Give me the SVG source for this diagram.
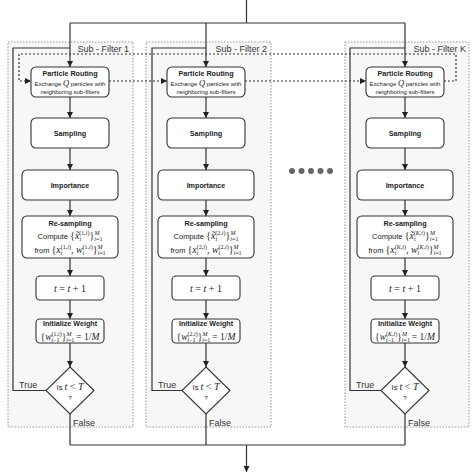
<svg xmlns="http://www.w3.org/2000/svg" width="474" height="474" viewBox="0 0 474 474">
<defs>
<marker id="ah" markerUnits="userSpaceOnUse" markerWidth="7" markerHeight="7" refX="6" refY="3" orient="auto"><path d="M0,0 L6,3 L0,6 z" fill="#222"/></marker>
<style>
.sf{fill:#f7f7f7;stroke:#999;stroke-width:1;stroke-dasharray:1.5 1.5}
.bx{fill:#fff;stroke:#333;stroke-width:1.1}
.ln{fill:none;stroke:#333;stroke-width:1.2}
.dt{fill:none;stroke:#333;stroke-width:1.2;stroke-dasharray:2 2}
.ar{marker-end:url(#ah)}
.hd{font-family:"Liberation Sans",Arial,sans-serif;font-weight:bold;font-size:7.2px;fill:#222;text-anchor:middle}
.sm{font-family:"Liberation Sans",Arial,sans-serif;font-size:6px;fill:#222;text-anchor:middle}
.mt{font-family:"Liberation Serif","Times New Roman",serif;font-size:10px;fill:#222;text-anchor:middle}
.m9{font-size:9.5px}
.q{font-family:"Liberation Serif","Times New Roman",serif;font-style:italic;font-size:8.5px}
.lb{font-family:"Liberation Sans",Arial,sans-serif;font-size:9px;fill:#333}
.i{font-style:italic}
.s5{font-size:6px}
.sn{font-family:"Liberation Sans",Arial,sans-serif;font-size:7.5px}
</style>
</defs>
<rect width="474" height="474" fill="#fff"/>
<g id="subfilter-1"><rect class="sf" x="8" y="42" width="125" height="385"/><text class="lb" x="129" y="52" text-anchor="end">Sub - Filter 1</text></g>
<g id="subfilter-2"><rect class="sf" x="146" y="42" width="125" height="385"/><text class="lb" x="267" y="52" text-anchor="end">Sub - Filter 2</text></g>
<g id="subfilter-k"><rect class="sf" x="345" y="42" width="124" height="385"/><text class="lb" x="466" y="52" text-anchor="end">Sub - Filter K</text></g>
<g id="connectors">
<path class="ln" d="M246.5,0 V23 M70,23 H405"/>
<path class="ln ar" d="M70,23 V67"/><path class="ln ar" d="M206,23 V67"/><path class="ln ar" d="M405,23 V67"/>
<path class="ln" d="M46,390.5 H13 V48 H70"/>
<path class="ln" d="M182,390.5 H152 V48 H206"/>
<path class="ln" d="M381,390.5 H350 V48 H405"/>
<g id="c1-arrows"><path class="ln ar" d="M70,97 V118"/><path class="ln ar" d="M70,148 V170"/><path class="ln ar" d="M70,200 V216"/><path class="ln ar" d="M70,258 V276"/><path class="ln ar" d="M70,300 V319"/><path class="ln ar" d="M70,343 V367"/></g>
<g id="c2-arrows"><path class="ln ar" d="M206,97 V118"/><path class="ln ar" d="M206,148 V170"/><path class="ln ar" d="M206,200 V216"/><path class="ln ar" d="M206,258 V276"/><path class="ln ar" d="M206,300 V319"/><path class="ln ar" d="M206,343 V367"/></g>
<g id="ck-arrows"><path class="ln ar" d="M405,97 V118"/><path class="ln ar" d="M405,148 V170"/><path class="ln ar" d="M405,200 V216"/><path class="ln ar" d="M405,258 V276"/><path class="ln ar" d="M405,300 V319"/><path class="ln ar" d="M405,343 V367"/></g>
<path class="ln" d="M70,414 V445 M206,414 V445 M405,414 V445 M70,445 H405"/>
<path class="ln ar" d="M246.5,445 V472"/>
<path class="dt ar" d="M444,81 H456 V54 H19 V81 H31"/>
<path class="dt ar" d="M109,81 H167"/>
<path class="dt ar" d="M245,81 H366"/>
<text class="lb" x="19" y="388">True</text><text class="lb" x="158" y="388">True</text><text class="lb" x="356" y="388">True</text>
<text class="lb" x="73" y="426">False</text><text class="lb" x="209" y="426">False</text><text class="lb" x="408" y="426">False</text>
</g>

<!-- Column 1 -->
<g id="c1-routing" transform="translate(70,0)"><rect class="bx" x="-39" y="67" width="78" height="30" rx="5"/><text class="hd" x="0" y="75.5">Particle Routing</text><text class="sm" x="0" y="85.5">Exchange <tspan class="q">Q</tspan> particles with</text><text class="sm" x="0" y="93.5">neighboring sub-filters</text></g>
<g id="c1-sampling" transform="translate(70,0)"><rect class="bx" x="-39" y="118" width="78" height="30" rx="5"/><text class="hd" x="0" y="135.5">Sampling</text></g>
<g id="c1-importance" transform="translate(70,0)"><rect class="bx" x="-48" y="170" width="96" height="30" rx="5"/><text class="hd" x="0" y="187.5">Importance</text></g>
<g id="c1-resampling" transform="translate(70,0)"><rect class="bx" x="-48" y="216" width="96" height="42" rx="5"/><text class="hd" x="0" y="225.5">Re-sampling</text>
<text class="mt" x="0" y="238.5"><tspan class="sn">Compute </tspan>{<tspan class="i">x̃</tspan><tspan class="s5 i" dy="2">t</tspan><tspan class="s5" dx="-1.7" dy="-6">(1,<tspan class="i">i</tspan>)</tspan><tspan dy="4">}</tspan><tspan class="s5" dy="2"><tspan class="i">i</tspan>=1</tspan><tspan class="s5 i" dx="-8" dy="-6">M</tspan></text>
<text class="mt" x="0" y="252.5"><tspan class="sn">from </tspan>{<tspan class="i">x</tspan><tspan class="s5 i" dy="2">t</tspan><tspan class="s5" dx="-1.7" dy="-6">(1,<tspan class="i">i</tspan>)</tspan><tspan dy="4">, </tspan><tspan class="i">w</tspan><tspan class="s5 i" dy="2">t</tspan><tspan class="s5" dx="-1.7" dy="-6">(1,<tspan class="i">i</tspan>)</tspan><tspan dy="4">}</tspan><tspan class="s5" dy="2"><tspan class="i">i</tspan>=1</tspan><tspan class="s5 i" dx="-8" dy="-6">M</tspan></text></g>
<g id="c1-tstep" transform="translate(70,0)"><rect class="bx" x="-34" y="276" width="68" height="24" rx="4"/><text class="mt" x="0" y="291.5"><tspan class="i">t</tspan> = <tspan class="i">t</tspan> + 1</text></g>
<g id="c1-init" transform="translate(70,0)"><rect class="bx" x="-34" y="319" width="68" height="24" rx="4"/><text class="hd" x="0" y="326">Initialize Weight</text>
<text class="mt m9" x="0" y="340">{<tspan class="i">w</tspan><tspan class="s5" dy="2"><tspan class="i">t</tspan>−1</tspan><tspan class="s5" dx="-8" dy="-6">(1,<tspan class="i">i</tspan>)</tspan><tspan dy="4">}</tspan><tspan class="s5" dy="2"><tspan class="i">i</tspan>=1</tspan><tspan class="s5 i" dx="-8" dy="-6">M</tspan><tspan dx="2.6" dy="4"> = 1/</tspan><tspan class="i">M</tspan></text></g>
<g id="c1-decision" transform="translate(70,0)"><polygon class="bx" points="0,367 24,390.5 0,414 -24,390.5"/><text class="mt" x="0" y="389.5"><tspan class="sn">Is </tspan><tspan class="i">t</tspan> &lt; <tspan class="i">T</tspan></text><text class="sm" x="0" y="399.5">?</text></g>

<!-- Column 2 -->
<g id="c2-routing" transform="translate(206,0)"><rect class="bx" x="-39" y="67" width="78" height="30" rx="5"/><text class="hd" x="0" y="75.5">Particle Routing</text><text class="sm" x="0" y="85.5">Exchange <tspan class="q">Q</tspan> particles with</text><text class="sm" x="0" y="93.5">neighboring sub-filters</text></g>
<g id="c2-sampling" transform="translate(206,0)"><rect class="bx" x="-39" y="118" width="78" height="30" rx="5"/><text class="hd" x="0" y="135.5">Sampling</text></g>
<g id="c2-importance" transform="translate(206,0)"><rect class="bx" x="-48" y="170" width="96" height="30" rx="5"/><text class="hd" x="0" y="187.5">Importance</text></g>
<g id="c2-resampling" transform="translate(206,0)"><rect class="bx" x="-48" y="216" width="96" height="42" rx="5"/><text class="hd" x="0" y="225.5">Re-sampling</text>
<text class="mt" x="0" y="238.5"><tspan class="sn">Compute </tspan>{<tspan class="i">x̃</tspan><tspan class="s5 i" dy="2">t</tspan><tspan class="s5" dx="-1.7" dy="-6">(2,<tspan class="i">i</tspan>)</tspan><tspan dy="4">}</tspan><tspan class="s5" dy="2"><tspan class="i">i</tspan>=1</tspan><tspan class="s5 i" dx="-8" dy="-6">M</tspan></text>
<text class="mt" x="0" y="252.5"><tspan class="sn">from </tspan>{<tspan class="i">x</tspan><tspan class="s5 i" dy="2">t</tspan><tspan class="s5" dx="-1.7" dy="-6">(2,<tspan class="i">i</tspan>)</tspan><tspan dy="4">, </tspan><tspan class="i">w</tspan><tspan class="s5 i" dy="2">t</tspan><tspan class="s5" dx="-1.7" dy="-6">(2,<tspan class="i">i</tspan>)</tspan><tspan dy="4">}</tspan><tspan class="s5" dy="2"><tspan class="i">i</tspan>=1</tspan><tspan class="s5 i" dx="-8" dy="-6">M</tspan></text></g>
<g id="c2-tstep" transform="translate(206,0)"><rect class="bx" x="-34" y="276" width="68" height="24" rx="4"/><text class="mt" x="0" y="291.5"><tspan class="i">t</tspan> = <tspan class="i">t</tspan> + 1</text></g>
<g id="c2-init" transform="translate(206,0)"><rect class="bx" x="-34" y="319" width="68" height="24" rx="4"/><text class="hd" x="0" y="326">Initialize Weight</text>
<text class="mt m9" x="0" y="340">{<tspan class="i">w</tspan><tspan class="s5" dy="2"><tspan class="i">t</tspan>−1</tspan><tspan class="s5" dx="-8" dy="-6">(2,<tspan class="i">i</tspan>)</tspan><tspan dy="4">}</tspan><tspan class="s5" dy="2"><tspan class="i">i</tspan>=1</tspan><tspan class="s5 i" dx="-8" dy="-6">M</tspan><tspan dx="2.6" dy="4"> = 1/</tspan><tspan class="i">M</tspan></text></g>
<g id="c2-decision" transform="translate(206,0)"><polygon class="bx" points="0,367 24,390.5 0,414 -24,390.5"/><text class="mt" x="0" y="389.5"><tspan class="sn">Is </tspan><tspan class="i">t</tspan> &lt; <tspan class="i">T</tspan></text><text class="sm" x="0" y="399.5">?</text></g>

<!-- Column K -->
<g id="ck-routing" transform="translate(405,0)"><rect class="bx" x="-39" y="67" width="78" height="30" rx="5"/><text class="hd" x="0" y="75.5">Particle Routing</text><text class="sm" x="0" y="85.5">Exchange <tspan class="q">Q</tspan> particles with</text><text class="sm" x="0" y="93.5">neighboring sub-filters</text></g>
<g id="ck-sampling" transform="translate(405,0)"><rect class="bx" x="-39" y="118" width="78" height="30" rx="5"/><text class="hd" x="0" y="135.5">Sampling</text></g>
<g id="ck-importance" transform="translate(405,0)"><rect class="bx" x="-48" y="170" width="96" height="30" rx="5"/><text class="hd" x="0" y="187.5">Importance</text></g>
<g id="ck-resampling" transform="translate(405,0)"><rect class="bx" x="-48" y="216" width="96" height="42" rx="5"/><text class="hd" x="0" y="225.5">Re-sampling</text>
<text class="mt" x="0" y="238.5"><tspan class="sn">Compute </tspan>{<tspan class="i">x̃</tspan><tspan class="s5 i" dy="2">t</tspan><tspan class="s5" dx="-1.7" dy="-6">(<tspan class="i">K</tspan>,<tspan class="i">i</tspan>)</tspan><tspan dy="4">}</tspan><tspan class="s5" dy="2"><tspan class="i">i</tspan>=1</tspan><tspan class="s5 i" dx="-8" dy="-6">M</tspan></text>
<text class="mt" x="0" y="252.5"><tspan class="sn">from </tspan>{<tspan class="i">x</tspan><tspan class="s5 i" dy="2">t</tspan><tspan class="s5" dx="-1.7" dy="-6">(<tspan class="i">K</tspan>,<tspan class="i">i</tspan>)</tspan><tspan dy="4">, </tspan><tspan class="i">w</tspan><tspan class="s5 i" dy="2">t</tspan><tspan class="s5" dx="-1.7" dy="-6">(<tspan class="i">K</tspan>,<tspan class="i">i</tspan>)</tspan><tspan dy="4">}</tspan><tspan class="s5" dy="2"><tspan class="i">i</tspan>=1</tspan><tspan class="s5 i" dx="-8" dy="-6">M</tspan></text></g>
<g id="ck-tstep" transform="translate(405,0)"><rect class="bx" x="-34" y="276" width="68" height="24" rx="4"/><text class="mt" x="0" y="291.5"><tspan class="i">t</tspan> = <tspan class="i">t</tspan> + 1</text></g>
<g id="ck-init" transform="translate(405,0)"><rect class="bx" x="-34" y="319" width="68" height="24" rx="4"/><text class="hd" x="0" y="326">Initialize Weight</text>
<text class="mt m9" x="0" y="340">{<tspan class="i">w</tspan><tspan class="s5" dy="2"><tspan class="i">t</tspan>−1</tspan><tspan class="s5" dx="-8" dy="-6">(<tspan class="i">K</tspan>,<tspan class="i">i</tspan>)</tspan><tspan dy="4">}</tspan><tspan class="s5" dy="2"><tspan class="i">i</tspan>=1</tspan><tspan class="s5 i" dx="-8" dy="-6">M</tspan><tspan dx="2.6" dy="4"> = 1/</tspan><tspan class="i">M</tspan></text></g>
<g id="ck-decision" transform="translate(405,0)"><polygon class="bx" points="0,367 24,390.5 0,414 -24,390.5"/><text class="mt" x="0" y="389.5"><tspan class="sn">Is </tspan><tspan class="i">t</tspan> &lt; <tspan class="i">T</tspan></text><text class="sm" x="0" y="399.5">?</text></g>

<g id="ellipsis" fill="#666"><circle cx="292" cy="171" r="3"/><circle cx="301.5" cy="171" r="3"/><circle cx="311" cy="171" r="3"/><circle cx="320.5" cy="171" r="3"/><circle cx="330" cy="171" r="3"/></g>
</svg>
